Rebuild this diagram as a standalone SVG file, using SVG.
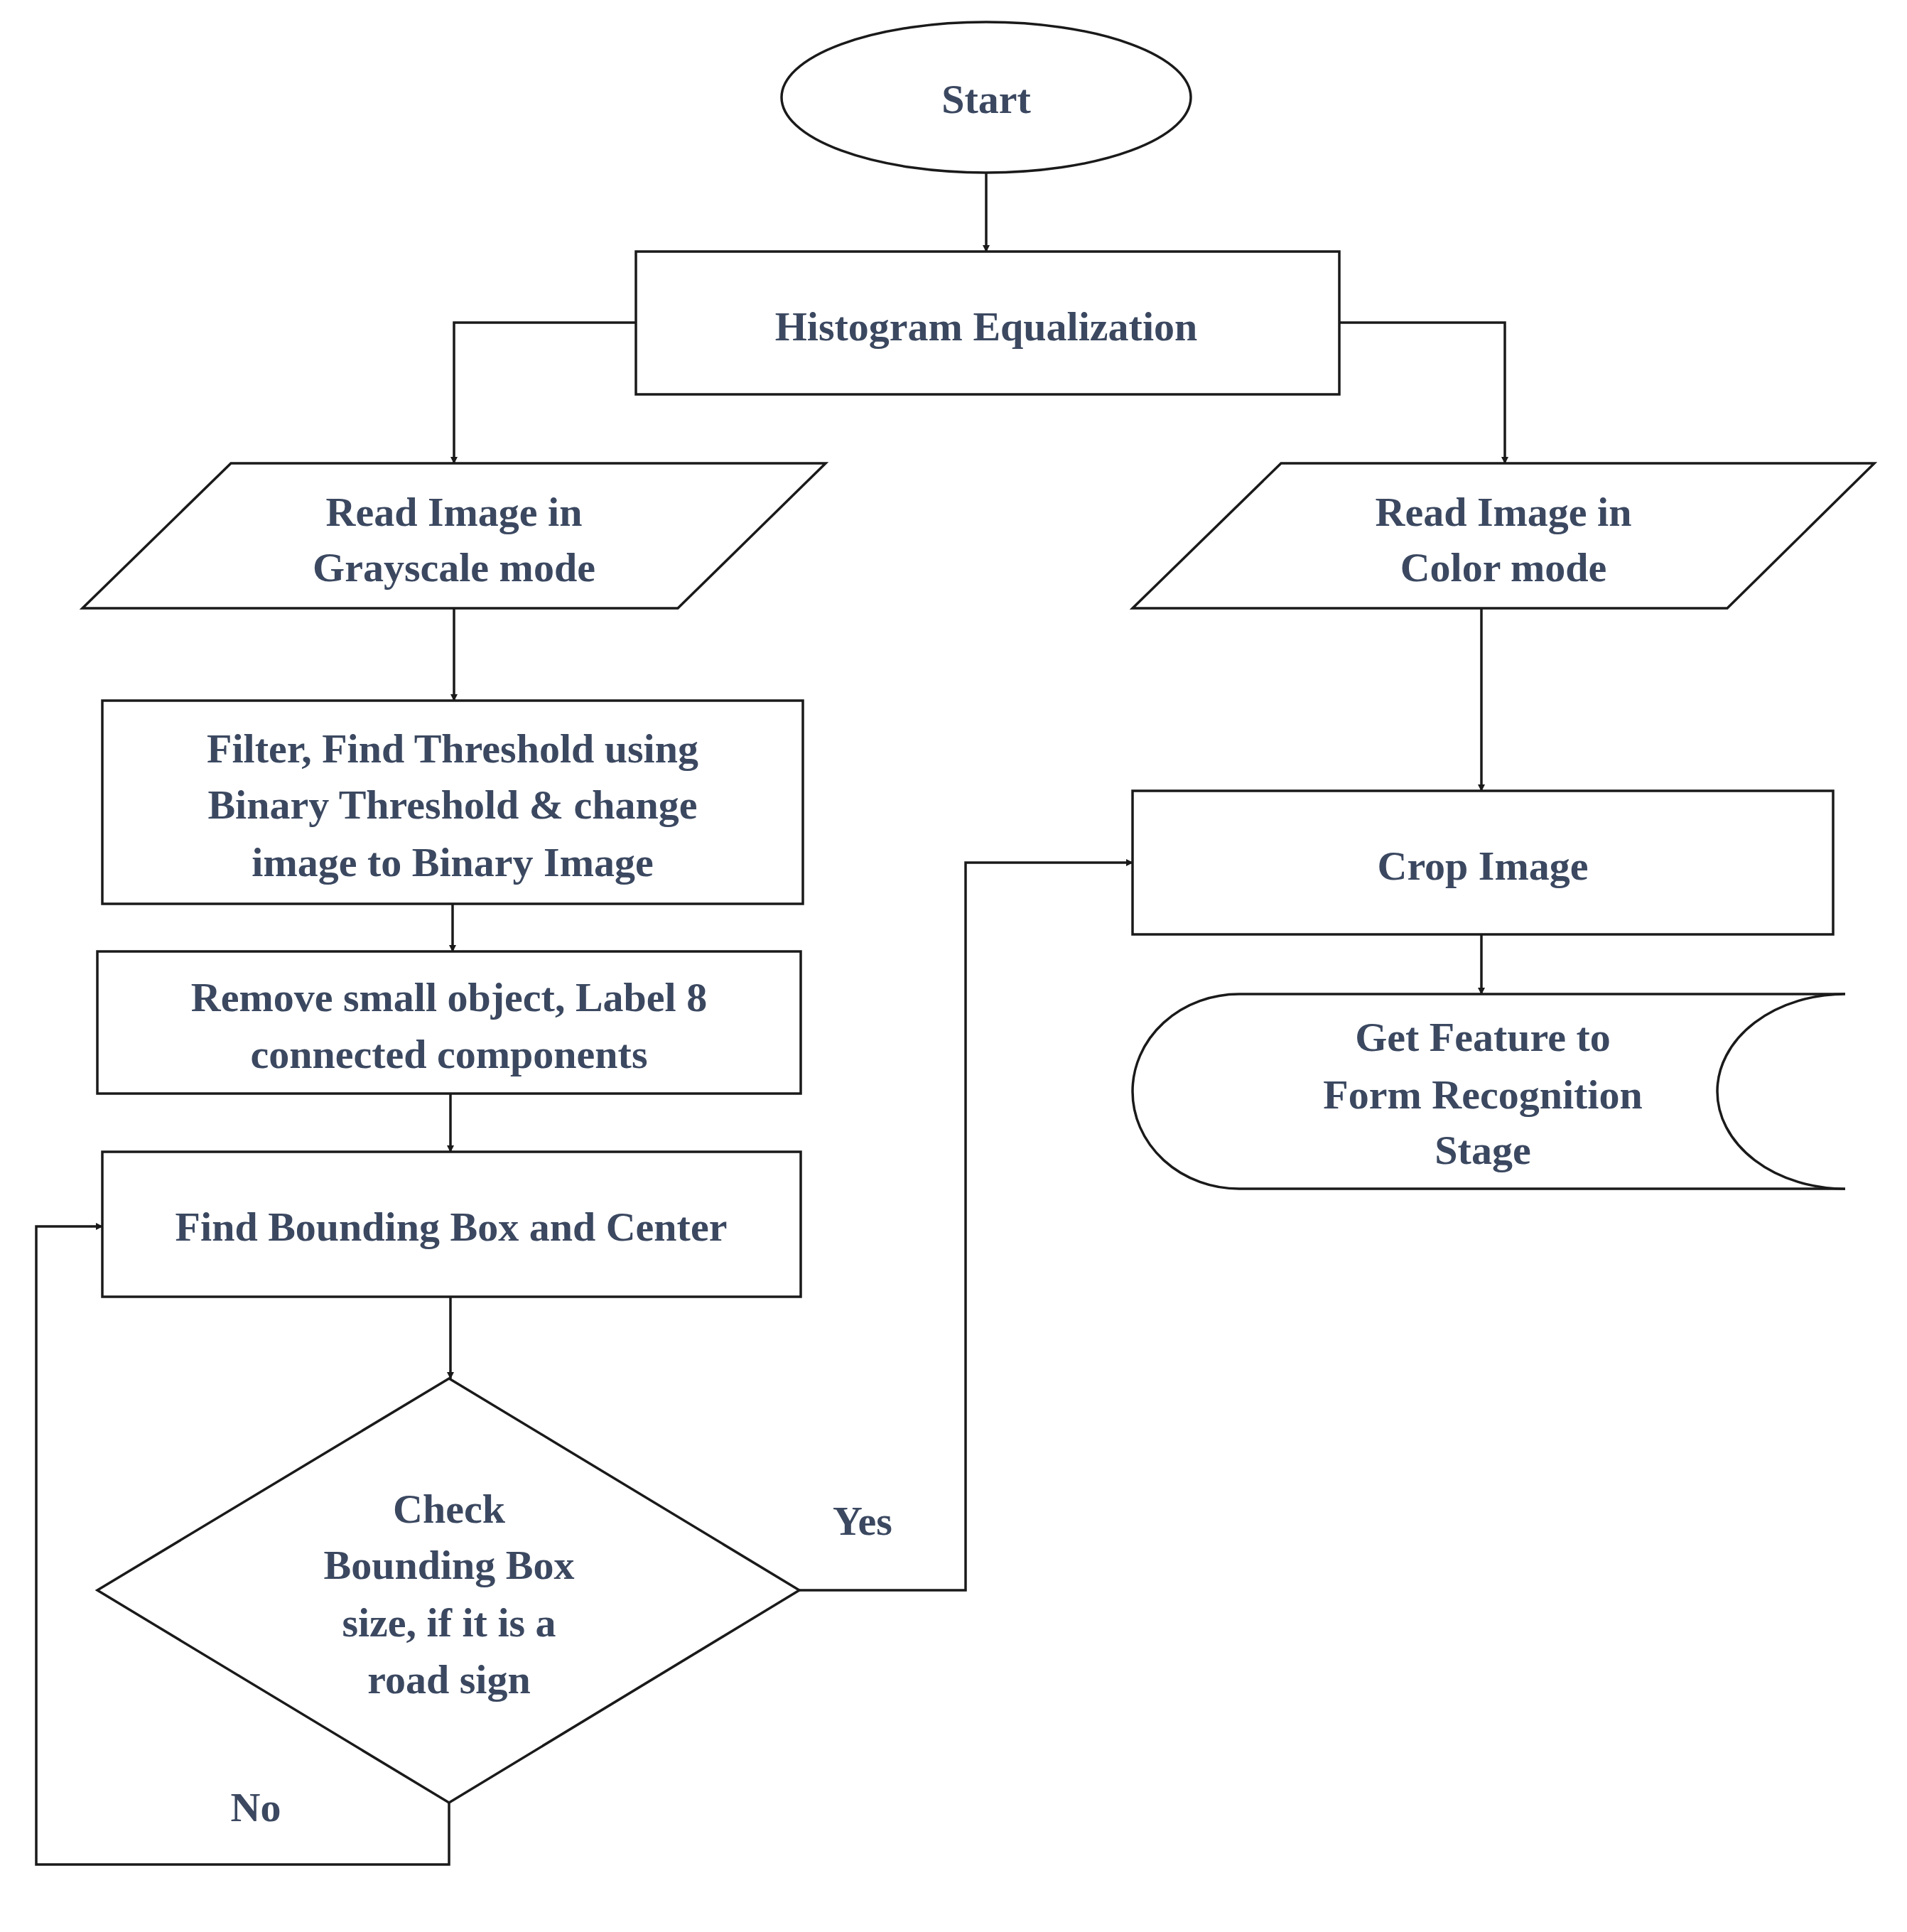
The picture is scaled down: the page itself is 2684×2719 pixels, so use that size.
<svg xmlns="http://www.w3.org/2000/svg" width="2684" height="2719" viewBox="0 0 2684 2719">
<style>
.s{fill:#fff;stroke:#1a1a1a;stroke-width:3.5}
.t{font-family:"Liberation Serif",serif;font-weight:bold;font-size:58px;fill:#3b4860;text-anchor:middle}
.c{fill:none;stroke:#1a1a1a;stroke-width:3.5;marker-end:url(#a)}
</style>
<defs><marker id="a" markerWidth="10" markerHeight="10" refX="9" refY="5" orient="auto" markerUnits="userSpaceOnUse"><path d="M0,0L10,5L0,10z" fill="#1a1a1a" transform="scale(1)"/></marker></defs>
<rect width="2684" height="2719" fill="#fff"/>
<g id="connectors">
<path class="c" d="M1388,243V354"/>
<path class="c" d="M895,454H639V652"/>
<path class="c" d="M1885,454H2118V652"/>
<path class="c" d="M639,856V986"/>
<path class="c" d="M637,1272V1339"/>
<path class="c" d="M634,1539V1621"/>
<path class="c" d="M634,1825V1940"/>
<path class="c" d="M2085,856V1113"/>
<path class="c" d="M2085,1315V1399"/>
<path class="c" d="M1125,2238H1359V1214H1594"/>
<path class="c" d="M632,2537V2624H51V1726H144"/>
<text class="t" x="1214" y="2160">Yes</text>
<text class="t" x="360" y="2563">No</text>
</g>
<g id="start"><ellipse class="s" cx="1388" cy="137" rx="288" ry="106"/><text class="t" x="1388" y="159">Start</text></g>
<g id="hist"><rect class="s" x="895" y="354" width="990" height="201"/><text class="t" x="1388" y="479">Histogram Equalization</text></g>
<g id="gray"><polygon class="s" points="325,652 1162,652 954,856 116,856"/><text class="t" x="639" y="740">Read Image in</text><text class="t" x="639" y="818">Grayscale  mode</text></g>
<g id="color"><polygon class="s" points="1803,652 2638,652 2431,856 1594,856"/><text class="t" x="2116" y="740">Read Image in</text><text class="t" x="2116" y="818">Color mode</text></g>
<g id="filter"><rect class="s" x="144" y="986" width="986" height="286"/><text class="t" x="637" y="1073">Filter, Find Threshold  using</text><text class="t" x="637" y="1152">Binary Threshold  &amp; change</text><text class="t" x="637" y="1233">image to Binary Image</text></g>
<g id="remove"><rect class="s" x="137" y="1339" width="990" height="200"/><text class="t" x="632" y="1423">Remove small object, Label 8</text><text class="t" x="632" y="1503">connected components</text></g>
<g id="find"><rect class="s" x="144" y="1621" width="983" height="204"/><text class="t" x="635" y="1746">Find Bounding Box and Center</text></g>
<g id="check"><polygon class="s" points="632,1940 1125,2238 632,2537 137,2238"/><text class="t" x="632" y="2143">Check</text><text class="t" x="632" y="2222">Bounding Box</text><text class="t" x="632" y="2303">size, if it is a</text><text class="t" x="632" y="2383">road sign</text></g>
<g id="crop"><rect class="s" x="1594" y="1113" width="986" height="202"/><text class="t" x="2087" y="1238">Crop Image</text></g>
<g id="feature"><path class="s" d="M2597,1399H1744A150,137 0 0 0 1744,1673H2597"/><path class="s" d="M2597,1399A180,137 0 0 0 2597,1673" fill="none"/><text class="t" x="2087" y="1479">Get Feature to</text><text class="t" x="2087" y="1560">Form Recognition</text><text class="t" x="2087" y="1638">Stage</text></g>
</svg>
